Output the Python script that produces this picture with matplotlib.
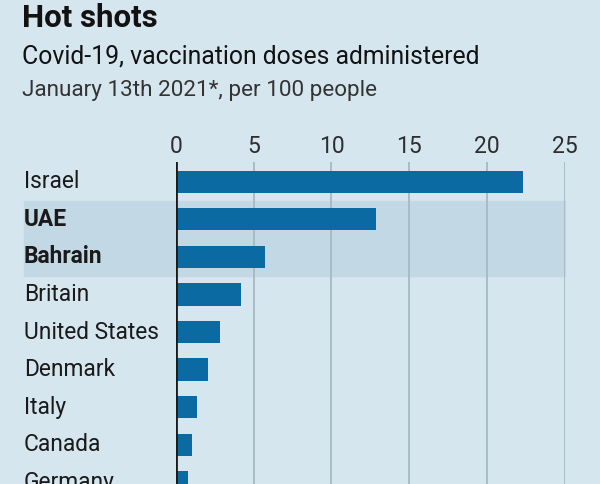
import matplotlib
matplotlib.use('Agg')
import matplotlib.pyplot as plt

countries = ['Israel', 'UAE', 'Bahrain', 'Britain', 'United States',
             'Denmark', 'Italy', 'Canada', 'Germany']
doses = [22.3, 12.9, 5.75, 4.2, 2.85, 2.05, 1.35, 1.05, 0.8]
highlight = ['UAE', 'Bahrain']
ticks = [0, 5, 10, 15, 20, 25]

bg = '#d6e6ef'
band = '#c2d8e4'
bar_col = '#0b6aa1'
grid_col = '#a8bcc8'

plt.rcParams['font.family'] = ['Roboto', 'DejaVu Sans']

fig = plt.figure(figsize=(6, 4.84), dpi=100, facecolor=bg)
# axes: x 176..564.5 px, y top at 162 px, runs past bottom of figure
ax = fig.add_axes([176 / 600, 0, (564.5 - 176) / 600, (484 - 162) / 484])
ax.set_facecolor('none')

ypos = list(range(len(countries)))
ax.barh(ypos, doses, height=0.59, color=bar_col, zorder=3)

ax.set_xlim(0, 25)
ax.set_ylim(8.05, -0.53)

for t in ticks[1:]:
    ax.axvline(t, color=grid_col, lw=1.4, zorder=1)
ax.axvline(0, color='#1a1a1a', lw=2, zorder=4)

for s in ax.spines.values():
    s.set_visible(False)
ax.set_xticks([])
ax.set_yticks([])

# tick labels on top
for t in ticks:
    ax.text(t, -0.77, str(t), ha='center', va='baseline', fontsize=16.5,
            color='#2e2e2e', clip_on=False)

# country labels
for i, c in enumerate(countries):
    w = 'bold' if c in highlight else 'normal'
    ax.text(-152 / 15.54, i, c, ha='left', va='center', fontsize=16.4,
            fontweight=w, color='#1a1a1a', clip_on=False)

idx = [countries.index(h) for h in highlight]
ax.axhspan(min(idx) - 0.5, max(idx) + 0.5, xmin=-152 / 388.5, xmax=1,
           color=band, zorder=0, clip_on=False)

fig.text(22 / 600, 1 - 27 / 484, 'Hot shots', fontsize=22.5, fontweight='bold',
         color='#121212', va='baseline')
fig.text(22 / 600, 1 - 63 / 484, 'Covid-19, vaccination doses administered',
         fontsize=17.8, color='#121212', va='baseline')
fig.text(22 / 600, 1 - 96 / 484, 'January 13th 2021*, per 100 people',
         fontsize=16.2, color='#333333', va='baseline')

fig.savefig('out.png', dpi=100, facecolor=bg)
